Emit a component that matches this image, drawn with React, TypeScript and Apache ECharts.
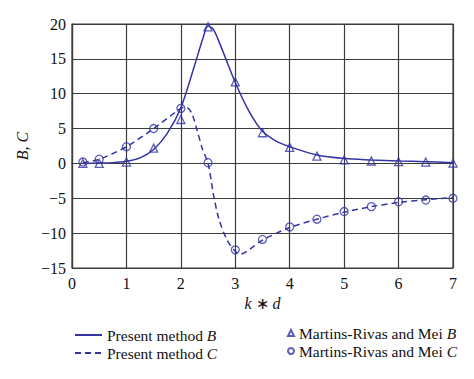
import React, { useEffect, useRef } from "react";
import * as echarts from "echarts";

const lineBX = [0.2, 0.5, 0.75, 1.0, 1.25, 1.5, 1.75, 2.0, 2.25, 2.4, 2.5, 2.6, 2.75, 3.0, 3.25, 3.5, 3.75, 4.0, 4.5, 5.0, 5.5, 6.0, 6.5, 7.0];
const lineBY = [0.0, 0.05, 0.1, 0.3, 0.8, 2.0, 4.3, 8.0, 14.0, 17.8, 19.7, 19.2, 16.5, 11.6, 7.5, 4.6, 3.2, 2.4, 1.2, 0.7, 0.5, 0.35, 0.25, 0.1];

const lineCX = [0.2, 0.5, 1.0, 1.5, 2.0, 2.1, 2.2, 2.3, 2.4, 2.5, 2.6, 2.7, 2.85, 3.0, 3.1, 3.25, 3.5, 4.0, 4.5, 5.0, 5.5, 6.0, 6.5, 7.0];
const lineCY = [0.1, 0.6, 2.4, 5.0, 7.9, 8.05, 7.2, 4.7, 2.0, 0.0, -4.5, -8.0, -11.0, -12.6, -13.0, -12.4, -11.0, -9.2, -8.0, -7.0, -6.2, -5.6, -5.2, -4.9];

const refX = [0.2, 0.5, 1.0, 1.5, 2.0, 2.5, 3.0, 3.5, 4.0, 4.5, 5.0, 5.5, 6.0, 6.5, 7.0];
const refB = [0.0, 0.0, 0.2, 2.2, 6.3, 19.6, 11.7, 4.4, 2.3, 1.05, 0.5, 0.35, 0.25, 0.2, 0.05];
const refCX = [0.2, 0.5, 1.0, 1.5, 2.0, 2.5, 3.0, 3.5, 4.0, 4.5, 5.0, 5.5, 6.0, 6.5, 7.0];
const refC = [0.2, 0.6, 2.4, 5.0, 7.9, 0.1, -12.4, -10.9, -9.1, -8.0, -6.9, -6.2, -5.5, -5.25, -5.0];

const seriesNames = ["Present method B", "Present method C", "Martins-Rivas and Mei B", "Martins-Rivas and Mei C"];

const BLUE = "#3434a4";
const GRID = "#3c3c3c";
const FONT = "Liberation Serif";

const zip = (xs: number[], ys: number[]) => xs.map((x, i) => [x, ys[i]]);

export default function App() {
  const ref = useRef<HTMLDivElement>(null);
  useEffect(() => {
    if (!ref.current) return;
    const chart = echarts.init(ref.current, undefined, { renderer: "svg" });
    const legendFmt = (name: string) => {
      const last = name.slice(-1);
      return `{n|${name.slice(0, -1)}}{i|${last}}`;
    };
    const legendText = {
      color: "#111",
      fontFamily: FONT,
      fontSize: 15.5,
      rich: {
        n: { fontFamily: FONT, fontSize: 15.5, color: "#111" },
        i: { fontFamily: FONT, fontSize: 15.5, fontStyle: "italic", color: "#111" },
      },
    };
    chart.setOption({
      animation: false,
      backgroundColor: "#ffffff",
      grid: { left: 72, right: 21, top: 24, bottom: 111, show: true, borderColor: GRID, borderWidth: 1.2 },
      legend: [
        {
          data: [seriesNames[0], seriesNames[1]],
          orient: "vertical",
          left: 69,
          top: 322,
          itemWidth: 27,
          itemHeight: 14,
          itemGap: 2,
          itemStyle: { opacity: 0 },
          formatter: legendFmt,
          textStyle: legendText,
        },
        {
          data: [seriesNames[2], seriesNames[3]],
          orient: "vertical",
          left: 282,
          top: 320,
          itemWidth: 6,
          itemHeight: 6,
          itemGap: 2,
          formatter: legendFmt,
          textStyle: legendText,
        },
      ],
      xAxis: {
        type: "value",
        min: 0,
        max: 7,
        interval: 1,
        name: "{i|k} ∗ {i|d}",
        nameLocation: "middle",
        nameGap: 26,
        nameTextStyle: {
          fontFamily: FONT,
          fontSize: 16,
          color: "#111",
          rich: { i: { fontFamily: FONT, fontSize: 16, fontStyle: "italic", color: "#111" } },
        },
        axisLine: { show: true, lineStyle: { color: GRID, width: 1.2 } },
        axisTick: { show: false },
        axisLabel: { fontFamily: FONT, fontSize: 16, color: "#111", margin: 7 },
        splitLine: { show: true, lineStyle: { color: GRID, width: 1.2 } },
      },
      yAxis: {
        type: "value",
        min: -15,
        max: 20,
        interval: 5,
        name: "{i|B}, {i|C}",
        nameLocation: "middle",
        nameGap: 40,
        nameRotate: 90,
        nameTextStyle: {
          fontFamily: FONT,
          fontSize: 16,
          color: "#111",
          rich: { i: { fontFamily: FONT, fontSize: 16, fontStyle: "italic", color: "#111" } },
        },
        axisLine: { show: true, lineStyle: { color: GRID, width: 1.2 } },
        axisTick: { show: false },
        axisLabel: {
          fontFamily: FONT,
          fontSize: 16,
          color: "#111",
          margin: 6,
          formatter: (v: number) => String(v).replace("-", "\u2212"),
        },
        splitLine: { show: true, lineStyle: { color: GRID, width: 1.2 } },
      },
      series: [
        {
          name: seriesNames[0],
          type: "line",
          data: zip(lineBX, lineBY),
          smooth: 0.3,
          symbol: "none",
          lineStyle: { color: BLUE, width: 1.5, type: "solid" },
          itemStyle: { color: BLUE },
          z: 3,
        },
        {
          name: seriesNames[1],
          type: "line",
          data: zip(lineCX, lineCY),
          smooth: 0.3,
          symbol: "none",
          lineStyle: { color: BLUE, width: 1.5, type: [6, 4] },
          itemStyle: { color: BLUE },
          z: 3,
        },
        {
          name: seriesNames[2],
          type: "scatter",
          data: zip(refX, refB),
          symbol: "triangle",
          symbolSize: 8,
          itemStyle: { color: "rgba(255,255,255,0)", borderColor: BLUE, borderWidth: 1.3 },
          z: 4,
        },
        {
          name: seriesNames[3],
          type: "scatter",
          data: zip(refCX, refC),
          symbol: "circle",
          symbolSize: 8,
          itemStyle: { color: "rgba(255,255,255,0)", borderColor: BLUE, borderWidth: 1.3 },
          z: 4,
        },
      ],
    });
    return () => chart.dispose();
  }, []);
  return <div ref={ref} style={{ width: 474, height: 379, position: "absolute", left: 0, top: 0 }} />;
}
